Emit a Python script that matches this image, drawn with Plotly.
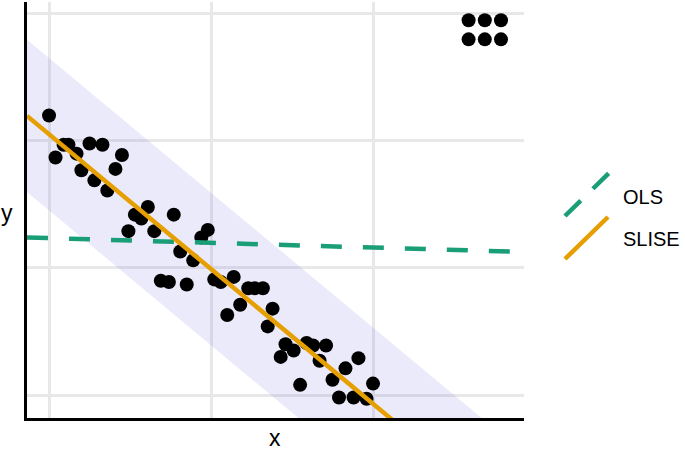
import plotly.graph_objects as go

# ---- data ----
x_pts = [0.00, 0.04, 0.09, 0.12, 0.17, 0.20, 0.25, 0.33, 0.28, 0.36,
         0.41, 0.45, 0.53, 0.57, 0.61, 0.49, 0.65, 0.77, 0.81, 0.89,
         0.94, 0.98, 0.69, 0.74, 0.85, 1.02, 1.06, 1.14, 1.10, 1.18,
         1.23, 1.27, 1.32, 1.35, 1.38, 1.43, 1.46, 1.51, 1.59, 1.63,
         1.71, 1.67, 1.55, 1.75, 1.83, 1.91, 1.79, 1.88, 1.96, 2.00]
y_pts = [2.20, 1.87, 1.97, 1.97, 1.90, 1.77, 1.98, 1.97, 1.69, 1.61,
         1.78, 1.89, 1.42, 1.39, 1.48, 1.29, 1.29, 1.42, 1.13, 1.06,
         1.24, 1.30, 0.90, 0.89, 0.87, 0.91, 0.89, 0.93, 0.63, 0.71,
         0.84, 0.84, 0.84, 0.54, 0.68, 0.30, 0.40, 0.35, 0.41, 0.39,
         0.39, 0.27, 0.08, 0.12, 0.21, 0.29, -0.02, -0.02, -0.03, 0.09]
x_out = [2.59, 2.69, 2.79, 2.59, 2.69, 2.79]
y_out = [2.95, 2.95, 2.95, 2.80, 2.80, 2.80]

slise_intercept, slise_slope = 2.053, -1.061
ols_intercept, ols_slope = 1.235, -0.037
epsilon = 0.60

x_range = [-0.136, 2.932]
y_range = [-0.181, 3.094]

legend_labels = ["OLS", "SLISE"]
axis_titles = ["x", "y"]

ORANGE = "#E69F00"
GREEN = "#1A9E77"
BAND = "rgba(100,90,220,0.13)"

xa, xb = x_range


def line_y(a, b, x):
    return a + b * x


fig = go.Figure()

# subset band
band_x = [xa, xb, xb, xa, xa]
band_y = [line_y(slise_intercept, slise_slope, xa) + epsilon,
          line_y(slise_intercept, slise_slope, xb) + epsilon,
          line_y(slise_intercept, slise_slope, xb) - epsilon,
          line_y(slise_intercept, slise_slope, xa) - epsilon,
          line_y(slise_intercept, slise_slope, xa) + epsilon]
fig.add_trace(go.Scatter(x=band_x, y=band_y, fill="toself", fillcolor=BAND,
                         line=dict(width=0), mode="lines", showlegend=False,
                         hoverinfo="skip"))

# points
fig.add_trace(go.Scatter(x=x_pts + x_out, y=y_pts + y_out, mode="markers",
                         marker=dict(size=14, color="black", line=dict(width=0)),
                         showlegend=False, cliponaxis=False))

# OLS
fig.add_trace(go.Scatter(x=[xa, xb],
                         y=[line_y(ols_intercept, ols_slope, xa), line_y(ols_intercept, ols_slope, xb)],
                         mode="lines", line=dict(color=GREEN, width=4.5, dash="21px,21px"),
                         showlegend=False))
# SLISE
fig.add_trace(go.Scatter(x=[xa, xb],
                         y=[line_y(slise_intercept, slise_slope, xa), line_y(slise_intercept, slise_slope, xb)],
                         mode="lines", line=dict(color=ORANGE, width=4.5),
                         showlegend=False))

# custom legend with slanted keys (paper coordinates)
W, H = 685, 452
ml, mr, mt, mb = 27, 161, 2, 34
pw, ph = W - ml - mr, H - mt - mb


def px2paper(px, py):
    return (px - ml) / pw, 1 - (py - mt) / ph


x0, y0 = px2paper(565, 216)
x1, y1 = px2paper(609, 173)
fig.add_shape(type="line", xref="paper", yref="paper", x0=x0, y0=y0, x1=x1, y1=y1,
              line=dict(color=GREEN, width=4.5, dash="22px,17px"))
x0, y0 = px2paper(565, 259)
x1, y1 = px2paper(608, 217)
fig.add_shape(type="line", xref="paper", yref="paper", x0=x0, y0=y0, x1=x1, y1=y1,
              line=dict(color=ORANGE, width=4.5))
for lab, py in zip(legend_labels, [197, 239]):
    tx, ty = px2paper(621, py)
    fig.add_annotation(text=lab, xref="paper", yref="paper", x=tx, y=ty,
                       xanchor="left", yanchor="middle", showarrow=False,
                       font=dict(size=20, color="black", family="Liberation Sans, Arial"))

# axis titles (upright, like the reference)
tx, ty = px2paper(275, 438)
fig.add_annotation(text=axis_titles[0], xref="paper", yref="paper", x=tx, y=ty,
                   xanchor="center", yanchor="middle", showarrow=False,
                   font=dict(size=23, color="black", family="Liberation Sans, Arial"))
tx, ty = px2paper(7, 213)
fig.add_annotation(text=axis_titles[1], xref="paper", yref="paper", x=tx, y=ty,
                   xanchor="center", yanchor="middle", showarrow=False,
                   font=dict(size=23, color="black", family="Liberation Sans, Arial"))

axis_common = dict(showgrid=True, gridcolor="#E8E8E8", gridwidth=2.5, zeroline=False,
                   showticklabels=False, ticks="", showline=True, linecolor="black",
                   linewidth=2.5, dtick=1, tick0=0)
fig.update_layout(
    width=W, height=H,
    margin=dict(l=ml, r=mr, t=mt, b=mb, autoexpand=False),
    paper_bgcolor="white", plot_bgcolor="white",
    font=dict(family="Liberation Sans, Arial", color="black"),
    xaxis=dict(range=x_range, **axis_common),
    yaxis=dict(range=y_range, **axis_common),
)

fig.write_html("out.html", config={"displayModeBar": False},
               post_script="document.body.style.margin='0';document.body.style.padding='0';")
